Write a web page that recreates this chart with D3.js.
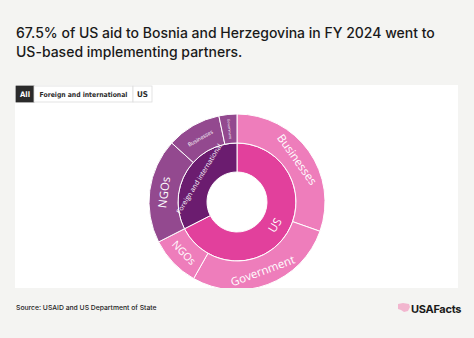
<!DOCTYPE html>
<html>
<head>
<meta charset="utf-8">
<script src="https://cdn.jsdelivr.net/npm/d3@7"></script>
<style>
  body { margin: 0; background: #f4f4f2; }
  svg { display: block; }
</style>
</head>
<body>
<div id="chart"></div>
<script>
// Data: share of FY 2024 US aid to Bosnia and Herzegovina (%)
const categories = ["US", "Foreign and international"];
const usPartners = ["Businesses", "Government", "NGOs"];
const usValues = [30.4, 27.8, 9.3];
const foreignPartners = ["NGOs", "Businesses", "Government"];
const foreignValues = [19.2, 10.0, 3.3];
const tabs = ["All", "Foreign and international", "US"];

const W = 474, H = 338;
const cx = 237, cy = 202;

const svg = d3.select("#chart").append("svg")
    .attr("width", W)
    .attr("height", H);

// page background + card
svg.append("rect").attr("width", W).attr("height", H).attr("fill", "#f4f4f2");
svg.append("rect")
    .attr("x", 15).attr("y", 85)
    .attr("width", 443).attr("height", 203)
    .attr("fill", "#ffffff");

// title
const title = svg.append("text")
    .attr("x", 16).attr("y", 38)
    .style("font-family", "Inter, sans-serif")
    .style("font-size", "14px")
    .style("font-weight", 500)
    .attr("fill", "#1a1a1a");
title.append("tspan").attr("x", 16).text("67.5% of US aid to Bosnia and Herzegovina in FY 2024 went to");
title.append("tspan").attr("x", 16).attr("dy", 19).text("US-based implementing partners.");

// tabs
const tabW = [18, 99, 19];
const tabTextW = [10, 88, 11];
let tx = 16;
tabs.forEach((t, i) => {
    const g = svg.append("g").attr("transform", `translate(${tx},86)`);
    g.append("rect")
        .attr("width", tabW[i]).attr("height", 16)
        .attr("fill", i === 0 ? "#2b2b2b" : "#ffffff")
        .attr("stroke", i === 0 ? "#2b2b2b" : "#dddddd")
        .attr("stroke-width", 0.8);
    const label = g.append("text")
        .attr("x", tabW[i] / 2).attr("y", 11)
        .attr("text-anchor", "middle")
        .style("font-family", "'DejaVu Sans Condensed', Roboto, sans-serif")
        .style("font-size", "8px")
        .style("font-weight", 700)
        .attr("fill", i === 0 ? "#ffffff" : "#2b2b2b")
        .text(t);
    // shrink font so the label fits its tab
    const len = label.node().getComputedTextLength();
    if (len > tabTextW[i]) label.style("font-size", (8 * tabTextW[i] / len) + "px");
    tx += tabW[i];
});

// hierarchy
const root = d3.hierarchy({
    name: "root",
    children: [
        { name: categories[0], children: usPartners.map((p, i) => ({ name: p, value: usValues[i] })) },
        { name: categories[1], children: foreignPartners.map((p, i) => ({ name: p, value: foreignValues[i] })) }
    ]
}).sum(d => d.value || 0);

d3.partition().size([2 * Math.PI, 3])(root);

const rScale = d3.scaleLinear().domain([1, 3]).range([30, 88]);

const colors = {
    "US": ["#e2409c", "#ee7dbb"],
    "Foreign and international": ["#6b1c6f", "#93498f"]
};
const colorOf = d => {
    const top = d.depth === 1 ? d : d.parent;
    return colors[top.data.name][d.depth - 1];
};

const arc = d3.arc()
    .startAngle(d => d.x0)
    .endAngle(d => d.x1)
    .innerRadius(d => rScale(d.y0))
    .outerRadius(d => rScale(d.y1));

svg.append("clipPath").attr("id", "card")
    .append("rect").attr("x", 15).attr("y", 85).attr("width", 443).attr("height", 203);

const chart = svg.append("g")
    .attr("clip-path", "url(#card)")
    .append("g")
    .attr("transform", `translate(${cx},${cy})`);

const nodes = root.descendants().filter(d => d.depth > 0);

chart.selectAll("path")
    .data(nodes)
    .enter()
    .append("path")
    .attr("d", arc)
    .attr("fill", colorOf)
    .attr("stroke", "#ffffff")
    .attr("stroke-width", 1);

// label size: shrink text that would not fit along its arc
const keyOf = d => (d.depth === 1 ? "" : d.parent.data.name + "/") + d.data.name;
const labelSize = {
    "US": 11.5,
    "Foreign and international": 6.8,
    "US/Businesses": 11.5,
    "US/Government": 11.5,
    "US/NGOs": 10.5,
    "Foreign and international/NGOs": 11.5,
    "Foreign and international/Businesses": 5.4,
    "Foreign and international/Government": 3.4
};

chart.selectAll("text.lbl")
    .data(nodes)
    .enter()
    .append("text")
    .attr("class", "lbl")
    .attr("transform", d => {
        const a = (d.x0 + d.x1) / 2 * 180 / Math.PI;
        const r = (rScale(d.y0) + rScale(d.y1)) / 2;
        const x = Math.sin(a * Math.PI / 180) * r;
        const y = -Math.cos(a * Math.PI / 180) * r;
        let rot;
        if (d.x1 - d.x0 < 0.3) {
            rot = a + 90; // perpendicular for the narrow slice
        } else {
            rot = (a > 90 && a < 270) ? a - 180 : a;
        }
        return `translate(${x},${y}) rotate(${rot})`;
    })
    .attr("text-anchor", "middle")
    .attr("dy", "0.35em")
    .style("font-family", "'Open Sans', sans-serif")
    .style("font-size", d => labelSize[keyOf(d)] + "px")
    .attr("fill", "#ffffff")
    .text(d => d.data.name);

// footer
svg.append("text")
    .attr("x", 16).attr("y", 310)
    .style("font-family", "Inter, sans-serif")
    .style("font-size", "6.8px")
    .style("font-weight", 500)
    .attr("fill", "#222222")
    .text("Source: USAID and US Department of State");

// logo
const logo = svg.append("g").attr("transform", "translate(398,303)");
logo.append("path")
    .attr("d", "M0,1 L5,0 L11,1 L12,4 L10,8 L6,9 L3,7 L0,6 Z")
    .attr("fill", "#f2b6cf");
logo.append("text")
    .attr("x", 13).attr("y", 9.5)
    .style("font-family", "Inter, sans-serif")
    .style("font-size", "11px")
    .style("font-weight", 700)
    .attr("letter-spacing", "-0.3px")
    .attr("fill", "#1a1a1a")
    .text("USAFacts");
</script>
</body>
</html>
